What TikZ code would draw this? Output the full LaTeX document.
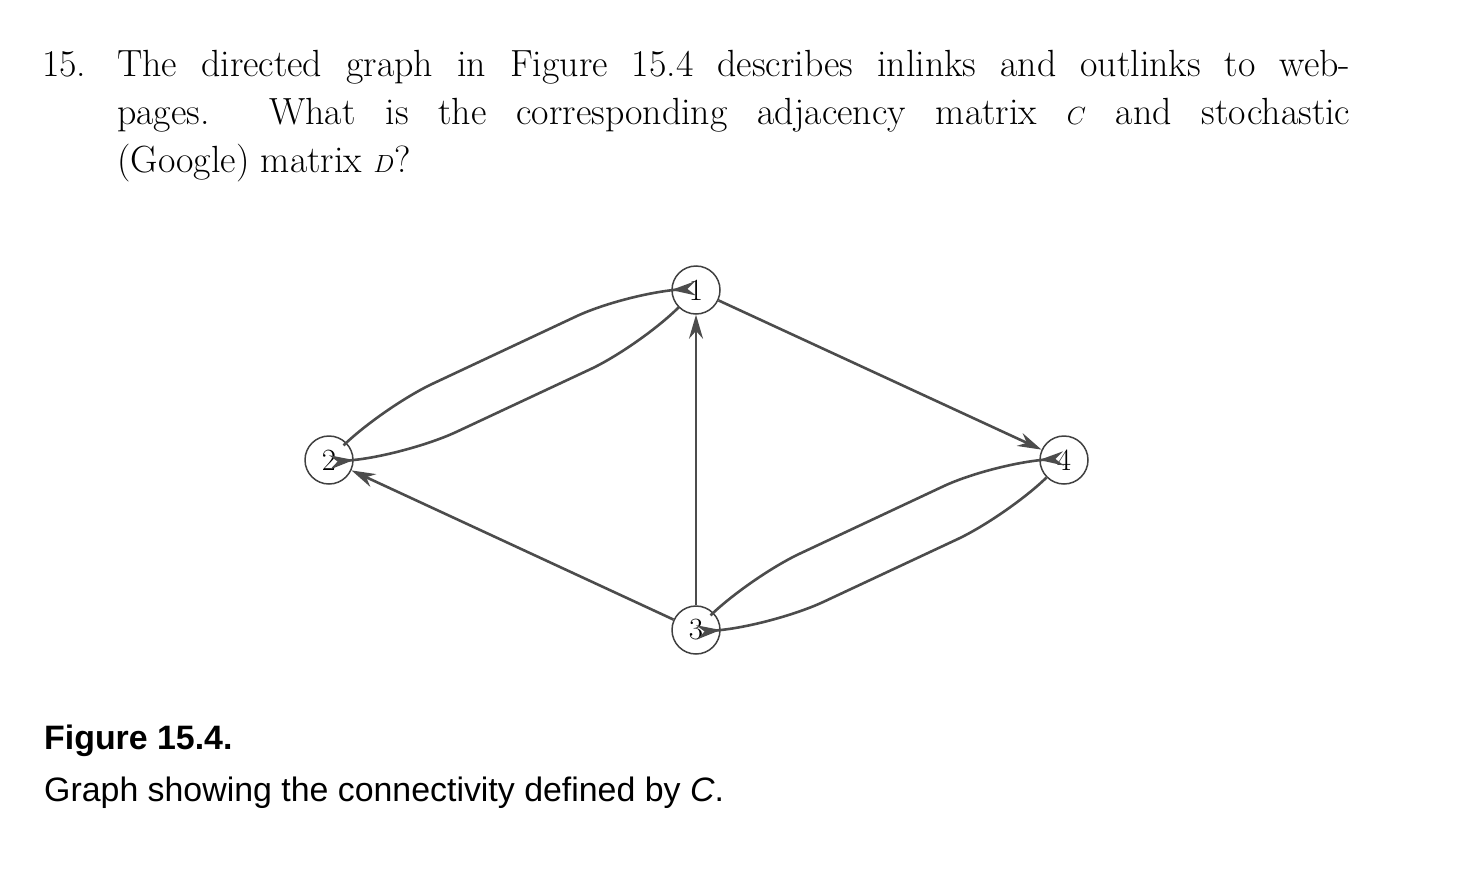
\documentclass[tikz,border=0pt]{standalone}
\usepackage[no-math]{fontspec}
\newfontfamily\capfont{Liberation Sans}
\usetikzlibrary{arrows.meta}
\begin{document}
\begin{tikzpicture}[x=1bp,y=-1bp,
  vert/.style={circle,draw=black!75,line width=1.5bp,minimum size=48bp,inner sep=0pt,font=\fontsize{31}{31}\selectfont},
  edge/.style={draw=black!70,line width=2.6bp,-{Stealth[length=24bp,width=14bp]}},
  curvedge/.style={edge,rounded corners=55bp}]
\useasboundingbox (0,0) rectangle (1470,879);
\node[anchor=base west,inner sep=0pt,font=\fontsize{38}{38}\selectfont] (num) at (42,76) {15.};
\node[anchor=base west,inner sep=0pt,font=\fontsize{38}{38}\selectfont] (l1) at (117,76) {\hbox to 1233bp{The directed graph in Figure 15.4 describes inlinks and outlinks to web-}};
\node[anchor=base west,inner sep=0pt,font=\fontsize{38}{38}\selectfont] (l2) at (117,124) {\hbox to 1233bp{pages.\ \ What is the corresponding adjacency matrix $C$ and stochastic}};
\node[anchor=base west,inner sep=0pt,font=\fontsize{38}{38}\selectfont] (l3) at (117,172) {(Google) matrix $D$?};
\node[vert] (n1) at (696,290) {1};
\node[vert] (n2) at (329,460) {2};
\node[vert] (n3) at (696,630) {3};
\node[vert] (n4) at (1064,460) {4};
\draw[curvedge] (n2.45) -- (383,407) -- (626,293) -- (n1.west);
\draw[curvedge] (n1.225) -- (640,346) -- (407,455) -- (n2.east);
\draw[curvedge] (n3.45) -- (750,577) -- (993,463) -- (n4.west);
\draw[curvedge] (n4.225) -- (1007,516) -- (774,625) -- (n3.east);
\draw[edge] (n3) -- (n2);
\draw[edge] (n3) -- (n1);
\draw[edge] (n1) -- (n4);
\node[anchor=base west,inner sep=0pt,font=\capfont\bfseries\fontsize{34}{34}\selectfont] (cap1) at (44,749) {Figure 15.4.};
\node[anchor=base west,inner sep=0pt,font=\capfont\fontsize{34}{34}\selectfont] (cap2) at (44,801) {Graph showing the connectivity defined by \textit{C}.};
\end{tikzpicture}
\end{document}
